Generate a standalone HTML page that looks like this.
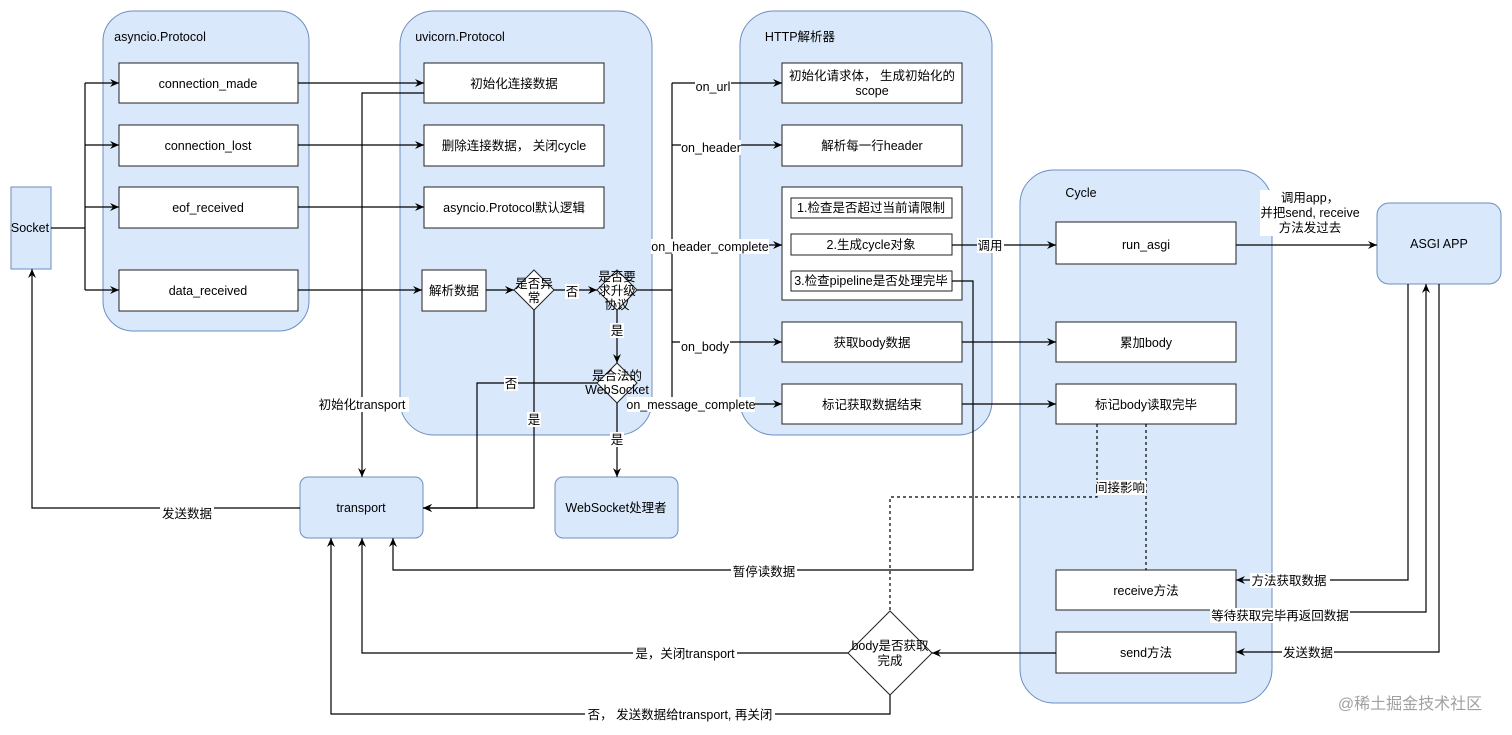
<!DOCTYPE html>
<html><head><meta charset="utf-8"><style>
html,body{margin:0;padding:0;background:#fff;width:1512px;height:735px;overflow:hidden}
text{font-family:"Liberation Sans","Noto Sans CJK SC",sans-serif;font-size:12.5px;fill:#000}
</style></head><body>
<svg width="1512" height="735" viewBox="0 0 1512 735" xmlns="http://www.w3.org/2000/svg">
<defs><marker id="a" markerWidth="10" markerHeight="10" refX="9" refY="5" orient="auto" markerUnits="userSpaceOnUse"><path d="M0,1 L9,5 L0,9 L3,5 Z" fill="#000"/></marker></defs>
<g fill="#dae8fc" stroke="#6c8ebf" stroke-width="1">
<rect x="103" y="11" width="206" height="320" rx="30"/>
<rect x="400" y="11" width="252" height="424" rx="34"/>
<rect x="740" y="11" width="252" height="424" rx="34"/>
<rect x="1020" y="170" width="252" height="533" rx="34"/>
<rect x="1377" y="203" width="124" height="81" rx="12"/>
<rect x="11" y="187" width="40" height="82"/>
<rect x="300" y="477" width="123" height="61" rx="8"/>
<rect x="555" y="477" width="123" height="61" rx="8"/>
</g>
<g fill="#fff" stroke="#222" stroke-width="1">
<rect x="119" y="63" width="179" height="40"/>
<rect x="119" y="125" width="179" height="41"/>
<rect x="119" y="187" width="179" height="41"/>
<rect x="119" y="270" width="179" height="41"/>
<rect x="424" y="63" width="180" height="40"/>
<rect x="424" y="125" width="180" height="41"/>
<rect x="424" y="187" width="180" height="41"/>
<rect x="422" y="270" width="64" height="41"/>
<rect x="782" y="63" width="180" height="40"/>
<rect x="782" y="125" width="180" height="41"/>
<rect x="782" y="187" width="180" height="113"/>
<rect x="791" y="198" width="161" height="20"/>
<rect x="791" y="234" width="161" height="21"/>
<rect x="791" y="271" width="161" height="20"/>
<rect x="782" y="322" width="180" height="40"/>
<rect x="782" y="384" width="180" height="40"/>
<rect x="1056" y="222" width="180" height="42"/>
<rect x="1056" y="322" width="180" height="40"/>
<rect x="1056" y="384" width="180" height="40"/>
<rect x="1056" y="570" width="180" height="40"/>
<rect x="1056" y="632" width="180" height="41"/>
<path d="M534,270 L554,290 L534,310 L514,290 Z"/>
<path d="M617,270 L637,290 L617,310 L597,290 Z"/>
<path d="M617,363 L637,383 L617,403 L597,383 Z"/>
<path d="M890,611 L932,653 L890,695 L848,653 Z"/>
</g>
<g fill="none" stroke="#000" stroke-width="1.2">
<path d="M51,228 H85 M85,83 V290"/>
<path d="M85,83 H119" marker-end="url(#a)"/>
<path d="M85,145 H119" marker-end="url(#a)"/>
<path d="M85,207 H119" marker-end="url(#a)"/>
<path d="M85,290 H119" marker-end="url(#a)"/>
<path d="M298,83 H424" marker-end="url(#a)"/>
<path d="M298,145 H424" marker-end="url(#a)"/>
<path d="M298,207 H424" marker-end="url(#a)"/>
<path d="M298,290 H422" marker-end="url(#a)"/>
<path d="M424,93 H362 V477" marker-end="url(#a)"/>
<path d="M486,290 H514" marker-end="url(#a)"/>
<path d="M554,290 H597" marker-end="url(#a)"/>
<path d="M534,310 V508 H423" marker-end="url(#a)"/>
<path d="M597,383 H477 V508 H423" marker-end="url(#a)"/>
<path d="M617,310 V363" marker-end="url(#a)"/>
<path d="M617,403 V477" marker-end="url(#a)"/>
<path d="M637,290 H672 M672,83 V404"/>
<path d="M672,83 H782" marker-end="url(#a)"/>
<path d="M672,145 H782" marker-end="url(#a)"/>
<path d="M672,245 H782" marker-end="url(#a)"/>
<path d="M672,342 H782" marker-end="url(#a)"/>
<path d="M672,404 H782" marker-end="url(#a)"/>
<path d="M952,245 H1056" marker-end="url(#a)"/>
<path d="M1236,245 H1377" marker-end="url(#a)"/>
<path d="M962,342 H1056" marker-end="url(#a)"/>
<path d="M962,404 H1056" marker-end="url(#a)"/>
<path d="M952,281 H973 V570 H393 V538" marker-end="url(#a)"/>
<path d="M1408,284 V580 H1236" marker-end="url(#a)"/>
<path d="M1236,612 H1426 V284" marker-end="url(#a)"/>
<path d="M1439,284 V652 H1236" marker-end="url(#a)"/>
<path d="M1056,653 H932" marker-end="url(#a)"/>
<path d="M848,653 H362 V538" marker-end="url(#a)"/>
<path d="M890,695 V714 H331 V538" marker-end="url(#a)"/>
<path d="M300,508 H32 V269" marker-end="url(#a)"/>
<path d="M1097,424 V497 H890 V611 M1146,424 V570" stroke-dasharray="3,3"/>
</g>
<g text-anchor="middle">
<text x="30" y="232">Socket</text>
<text x="160" y="41">asyncio.Protocol</text>
<text x="460" y="41">uvicorn.Protocol</text>
<text x="800" y="41">HTTP解析器</text>
<text x="1081" y="197">Cycle</text>
<text x="1439" y="248">ASGI APP</text>
<text x="361" y="512">transport</text>
<text x="616" y="512">WebSocket处理者</text>
<text x="208" y="88">connection_made</text>
<text x="208" y="150">connection_lost</text>
<text x="208" y="212">eof_received</text>
<text x="208" y="295">data_received</text>
<text x="514" y="88">初始化连接数据</text>
<text x="514" y="150">删除连接数据， 关闭cycle</text>
<text x="514" y="212">asyncio.Protocol默认逻辑</text>
<text x="454" y="295">解析数据</text>
<text x="534" y="288">是否异</text><text x="534" y="302">常</text>
<text x="617" y="281">是否要</text><text x="617" y="295">求升级</text><text x="617" y="309">协议</text>
<text x="617" y="380">是合法的</text><text x="617" y="394">WebSocket</text>
<text x="872" y="80">初始化请求体， 生成初始化的</text><text x="872" y="95">scope</text>
<text x="872" y="150">解析每一行header</text>
<text x="871" y="212">1.检查是否超过当前请限制</text>
<text x="871" y="249">2.生成cycle对象</text>
<text x="871" y="285">3.检查pipeline是否处理完毕</text>
<text x="872" y="347">获取body数据</text>
<text x="872" y="409">标记获取数据结束</text>
<text x="1146" y="249">run_asgi</text>
<text x="1146" y="347">累加body</text>
<text x="1146" y="409">标记body读取完毕</text>
<text x="1146" y="595">receive方法</text>
<text x="1146" y="657">send方法</text>
<text x="890" y="650">body是否获取</text><text x="890" y="665">完成</text>
</g>
<g text-anchor="middle">
<rect x="315" y="397" width="94" height="15" fill="#fff"/><text x="362" y="409">初始化transport</text>
<rect x="565" y="284" width="14" height="15" fill="#fff"/><text x="572" y="296">否</text>
<rect x="610" y="323" width="14" height="15" fill="#fff"/><text x="617" y="335">是</text>
<rect x="504" y="376" width="14" height="15" fill="#fff"/><text x="511" y="388">否</text>
<rect x="527" y="412" width="14" height="15" fill="#fff"/><text x="534" y="424">是</text>
<rect x="610" y="432" width="14" height="15" fill="#fff"/><text x="617" y="444">是</text>
<rect x="695" y="79" width="36" height="15" fill="#fff"/><text x="713" y="91">on_url</text>
<rect x="681" y="140" width="60" height="15" fill="#fff"/><text x="711" y="152">on_header</text>
<rect x="651" y="239" width="118" height="15" fill="#fff"/><text x="710" y="251">on_header_complete</text>
<rect x="680" y="339" width="50" height="15" fill="#fff"/><text x="705" y="351">on_body</text>
<rect x="627" y="397" width="128" height="15" fill="#fff"/><text x="691" y="409">on_message_complete</text>
<rect x="977" y="238" width="27" height="15" fill="#fff"/><text x="990" y="250">调用</text>
<rect x="1260" y="190" width="102" height="46" fill="#fff"/>
<text x="1310" y="202">调用app，</text><text x="1310" y="217">并把send, receive</text><text x="1310" y="232">方法发过去</text>
<rect x="1096" y="480" width="50" height="15" fill="#fff"/><text x="1120" y="492">间接影响</text>
<rect x="731" y="564" width="66" height="15" fill="#fff"/><text x="764" y="576">暂停读数据</text>
<rect x="1250" y="573" width="80" height="15" fill="#fff"/><text x="1289" y="585">方法获取数据</text>
<rect x="1210" y="608" width="140" height="15" fill="#fff"/><text x="1280" y="620">等待获取完毕再返回数据</text>
<rect x="1282" y="645" width="52" height="15" fill="#fff"/><text x="1308" y="657">发送数据</text>
<rect x="633" y="646" width="104" height="15" fill="#fff"/><text x="685" y="658">是，关闭transport</text>
<rect x="585" y="707" width="190" height="15" fill="#fff"/><text x="680" y="719">否， 发送数据给transport, 再关闭</text>
<rect x="160" y="506" width="54" height="15" fill="#fff"/><text x="187" y="518">发送数据</text>
<text x="1410" y="709" style="font-size:16px;fill:#a0a0a0">@稀土掘金技术社区</text>
</g>
</svg>
</body></html>
